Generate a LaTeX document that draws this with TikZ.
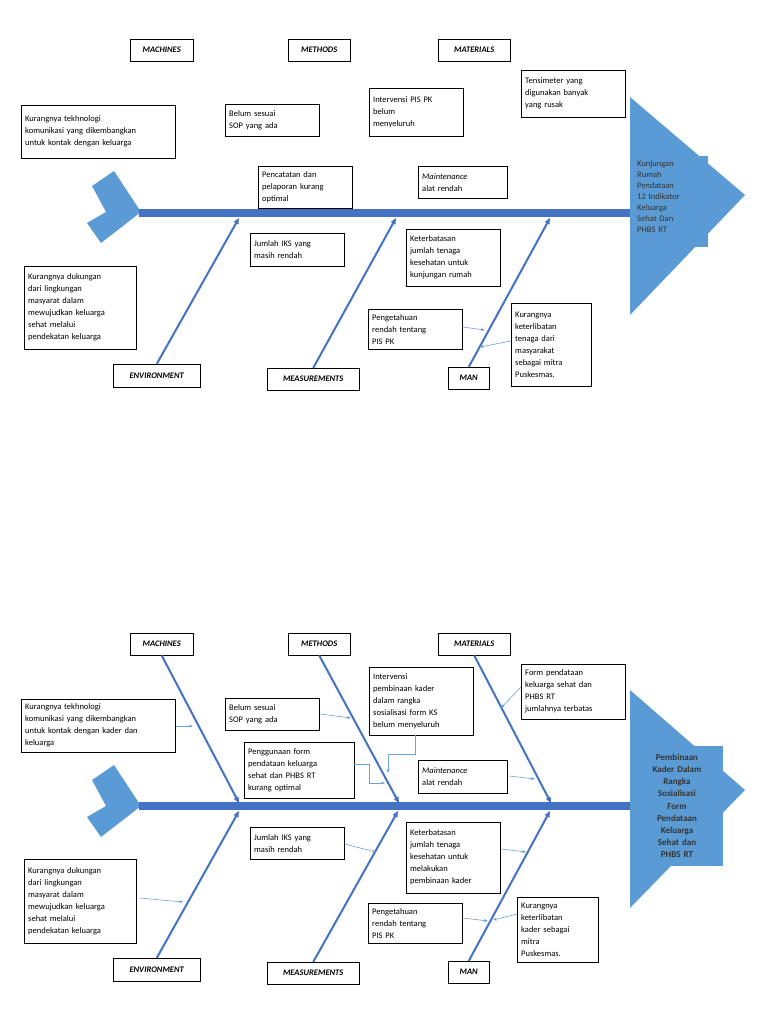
\documentclass[tikz,border=0pt]{standalone}
\usepackage{fontspec}
\setmainfont{Carlito}
\usepackage{xcolor}
\usetikzlibrary{positioning, arrows.meta}
\definecolor{fishblue}{RGB}{68,114,196}
\definecolor{headblue}{RGB}{91,155,213}
\definecolor{tipblue}{RGB}{110,160,215}
\tikzset{
    box/.style={draw, thin, anchor=north west, align=left, inner sep=4pt, font=\fontsize{8.5}{12}\selectfont},
    lab/.style={draw, thin, anchor=north west, inner sep=0pt, font=\fontsize{8.5}{10}\selectfont\bfseries\itshape},
    bone/.style={draw=fishblue, line width=2pt, -{Triangle[length=6pt,width=5pt]}},
    tip/.style={draw=tipblue, line width=0.6pt, -{Stealth[length=4pt,width=3pt]}}
}
\newcommand{\bx}[6]{\node[box, text width=\dimexpr#4pt-8pt\relax, minimum height=#5pt] (#1) at (#2,#3) {#6};}
\newcommand{\lb}[6]{\node[lab, minimum width=#4pt, minimum height=#5pt] (#1) at (#2,#3) {#6};}
\begin{document}
\begin{tikzpicture}[x=1pt, y=-1pt]
    \useasboundingbox (0,0) rectangle (768,1024);

    % ---------- upper diagram ----------
    % Spine, tail and head
    \fill[headblue] (114,171) -- (141,212) -- (101,243) -- (87,223) -- (106,212) -- (92,186) -- cycle;
    \coordinate (sp1a) at (139,213);
    \coordinate (sp1b) at (636,213);
    \draw[fishblue, line width=8pt] (sp1a) -- (sp1b);
    \fill[headblue] (630,97) -- (745,195) -- (630,315) -- cycle;
    \fill[headblue] (630,156) rectangle (708,247);
    \node[anchor=north west, align=left, inner sep=0pt, text width=70pt, font=\fontsize{8.5}{11}\selectfont, text=black!80] (head1) at (637,160)
        {Kunjungan\\Rumah\\Pendataan\\12 Indikator\\Keluarga\\Sehat Dan\\PHBS RT};

    % Category labels
    \lb{mach1}{130}{39}{63}{22}{MACHINES}
    \lb{meth1}{288}{39}{62}{22}{METHODS}
    \lb{mat1}{438}{39}{72}{22}{MATERIALS}
    \lb{env1}{113}{364}{87}{23}{ENVIRONMENT}
    \lb{meas1}{267}{368}{92}{22}{MEASUREMENTS}
    \lb{man1}{448}{367}{41}{22}{MAN}

    % Cause boxes
    \bx{tek1}{21}{105}{154}{53}{Kurangnya tekhnologi\\komunikasi yang dikembangkan\\untuk kontak dengan keluarga}
    \bx{sop1}{225}{104}{94}{32}{Belum sesuai\\SOP yang ada}
    \bx{pis1}{369}{88}{94}{48}{Intervensi PIS PK\\belum\\menyeluruh}
    \bx{tens1}{521}{70}{104}{47}{Tensimeter yang\\digunakan banyak\\yang rusak}
    \bx{cat1}{258}{166}{94}{42}{Pencatatan dan\\pelaporan kurang\\optimal}
    \bx{mnt1}{418}{166}{89}{32}{\textit{Maintenance}\\alat rendah}
    \bx{iks1}{250}{233}{94}{33}{Jumlah IKS yang\\masih rendah}
    \bx{ter1}{406}{229}{94}{57}{Keterbatasan\\jumlah tenaga\\kesehatan untuk\\kunjungan rumah}
    \bx{duk1}{24}{266}{112}{83}{Kurangnya dukungan\\dari lingkungan\\masyarat dalam\\mewujudkan keluarga\\sehat melalui\\pendekatan keluarga}
    \bx{pen1}{368}{309}{94}{40}{Pengetahuan\\rendah tentang\\PIS PK}
    \bx{kel1}{511}{303}{80}{83}{Kurangnya\\keterlibatan\\tenaga dari\\masyarakat\\sebagai mitra\\Puskesmas.}

    % Bones
    \coordinate (e1) at (239,218);
    \coordinate (m1) at (396,218);
    \coordinate (n1) at (550,218);
    \draw[bone] (env1.north) ++(0,0) -- (e1);
    \draw[bone] (meas1.north) -- (m1);
    \draw[bone] (man1.north) -- (n1);

    % Small arrows
    \coordinate (t1a) at (485,330);
    \coordinate (t1b) at (480,347);
    \draw[tip] (pen1.east |- 0,327) -- (t1a);
    \draw[tip] (kel1.west |- 0,341) -- (t1b);

    % ---------- lower diagram ----------
    \fill[headblue] (114,765) -- (141,806) -- (101,837) -- (87,817) -- (106,806) -- (92,780) -- cycle;
    \coordinate (sp2a) at (139,806);
    \coordinate (sp2b) at (636,806);
    \draw[fishblue, line width=8pt] (sp2a) -- (sp2b);
    \fill[headblue] (630,690) -- (745,790) -- (630,908) -- cycle;
    \fill[headblue] (630,746) rectangle (723,866);
    \node[anchor=center, align=center, inner sep=0pt, text width=90pt, font=\fontsize{9}{12.2}\selectfont\bfseries, text=black!80] (head2) at (677,806)
        {Pembinaan\\Kader Dalam\\Rangka\\Sosialisasi\\Form\\Pendataan\\Keluarga\\Sehat dan\\PHBS RT};

    % Category labels
    \lb{mach2}{130}{633}{63}{22}{MACHINES}
    \lb{meth2}{288}{633}{62}{22}{METHODS}
    \lb{mat2}{438}{633}{72}{22}{MATERIALS}
    \lb{env2}{113}{958}{87}{23}{ENVIRONMENT}
    \lb{meas2}{267}{962}{92}{22}{MEASUREMENTS}
    \lb{man2}{448}{961}{41}{22}{MAN}

    % Cause boxes
    \bx{tek2}{21}{699}{154}{53}{Kurangnya tekhnologi\\komunikasi yang dikembangkan\\untuk kontak dengan kader dan\\keluarga}
    \bx{sop2}{225}{698}{94}{32}{Belum sesuai\\SOP yang ada}
    \bx{pis2}{369}{667}{104}{68}{Intervensi\\pembinaan kader\\dalam rangka\\sosialisasi form KS\\belum menyeluruh}
    \bx{form2}{521}{664}{104}{55}{Form pendataan\\keluarga sehat dan\\PHBS RT\\jumlahnya terbatas}
    \bx{pgf2}{244}{742}{110}{56}{Penggunaan form\\pendataan keluarga\\sehat dan PHBS RT\\kurang optimal}
    \bx{mnt2}{418}{760}{89}{33}{\textit{Maintenance}\\alat rendah}
    \bx{iks2}{250}{827}{94}{32}{Jumlah IKS yang\\masih rendah}
    \bx{ter2}{406}{822}{94}{71}{Keterbatasan\\jumlah tenaga\\kesehatan untuk\\melakukan\\pembinaan kader}
    \bx{duk2}{24}{859}{112}{84}{Kurangnya dukungan\\dari lingkungan\\masyarat dalam\\mewujudkan keluarga\\sehat melalui\\pendekatan keluarga}
    \bx{pen2}{368}{903}{94}{40}{Pengetahuan\\rendah tentang\\PIS PK}
    \bx{kel2}{517}{897}{81}{65}{Kurangnya\\keterlibatan\\kader sebagai\\mitra\\Puskesmas.}

    % Bones
    \coordinate (c2) at (239,803);
    \coordinate (d2) at (399,803);
    \coordinate (f2) at (551,803);
    \coordinate (e2) at (239,811);
    \coordinate (m2) at (398,811);
    \coordinate (n2) at (550,811);
    \draw[bone] (mach2.south) -- (c2);
    \draw[bone] (meth2.south) -- (d2);
    \draw[bone] (mat2.south) -- (f2);
    \draw[bone] (env2.north) -- (e2);
    \draw[bone] (meas2.north) -- (m2);
    \draw[bone] (man2.north) -- (n2);

    % Small arrows
    \coordinate (a1) at (193,726);
    \coordinate (a2) at (351,718);
    \coordinate (a3) at (388,773);
    \coordinate (a4) at (385,783);
    \coordinate (a5) at (501,708);
    \coordinate (a6) at (535,779);
    \coordinate (a7) at (376,852);
    \coordinate (a8) at (526,852);
    \coordinate (a9) at (183,902);
    \coordinate (a10) at (488,921);
    \coordinate (a11) at (493,920);
    \draw[tip] (tek2.east |- 0,726) ++(1,0) -- (a1);
    \draw[tip] (sop2.east |- 0,714) ++(1,0) -- (a2);
    \draw[tip] (pis2.south -| 415,0) -- (415,754) -- (388,754) -- (a3);
    \draw[tip] (pgf2.east |- 0,764) -- (369,764) -- (369,783) -- (a4);
    \draw[tip] (form2.west |- 0,687) -- (a5);
    \draw[tip] (mnt2.east |- 0,776) ++(2,0) -- (a6);
    \draw[tip] (iks2.east |- 0,844) -- (a7);
    \draw[tip] (ter2.east |- 0,849) ++(1,0) -- (a8);
    \draw[tip] (duk2.east |- 0,898) ++(3,0) -- (a9);
    \draw[tip] (pen2.east |- 0,918) -- (a10);
    \draw[tip] (kel2.west |- 0,914) -- (a11);
\end{tikzpicture}
\end{document}
